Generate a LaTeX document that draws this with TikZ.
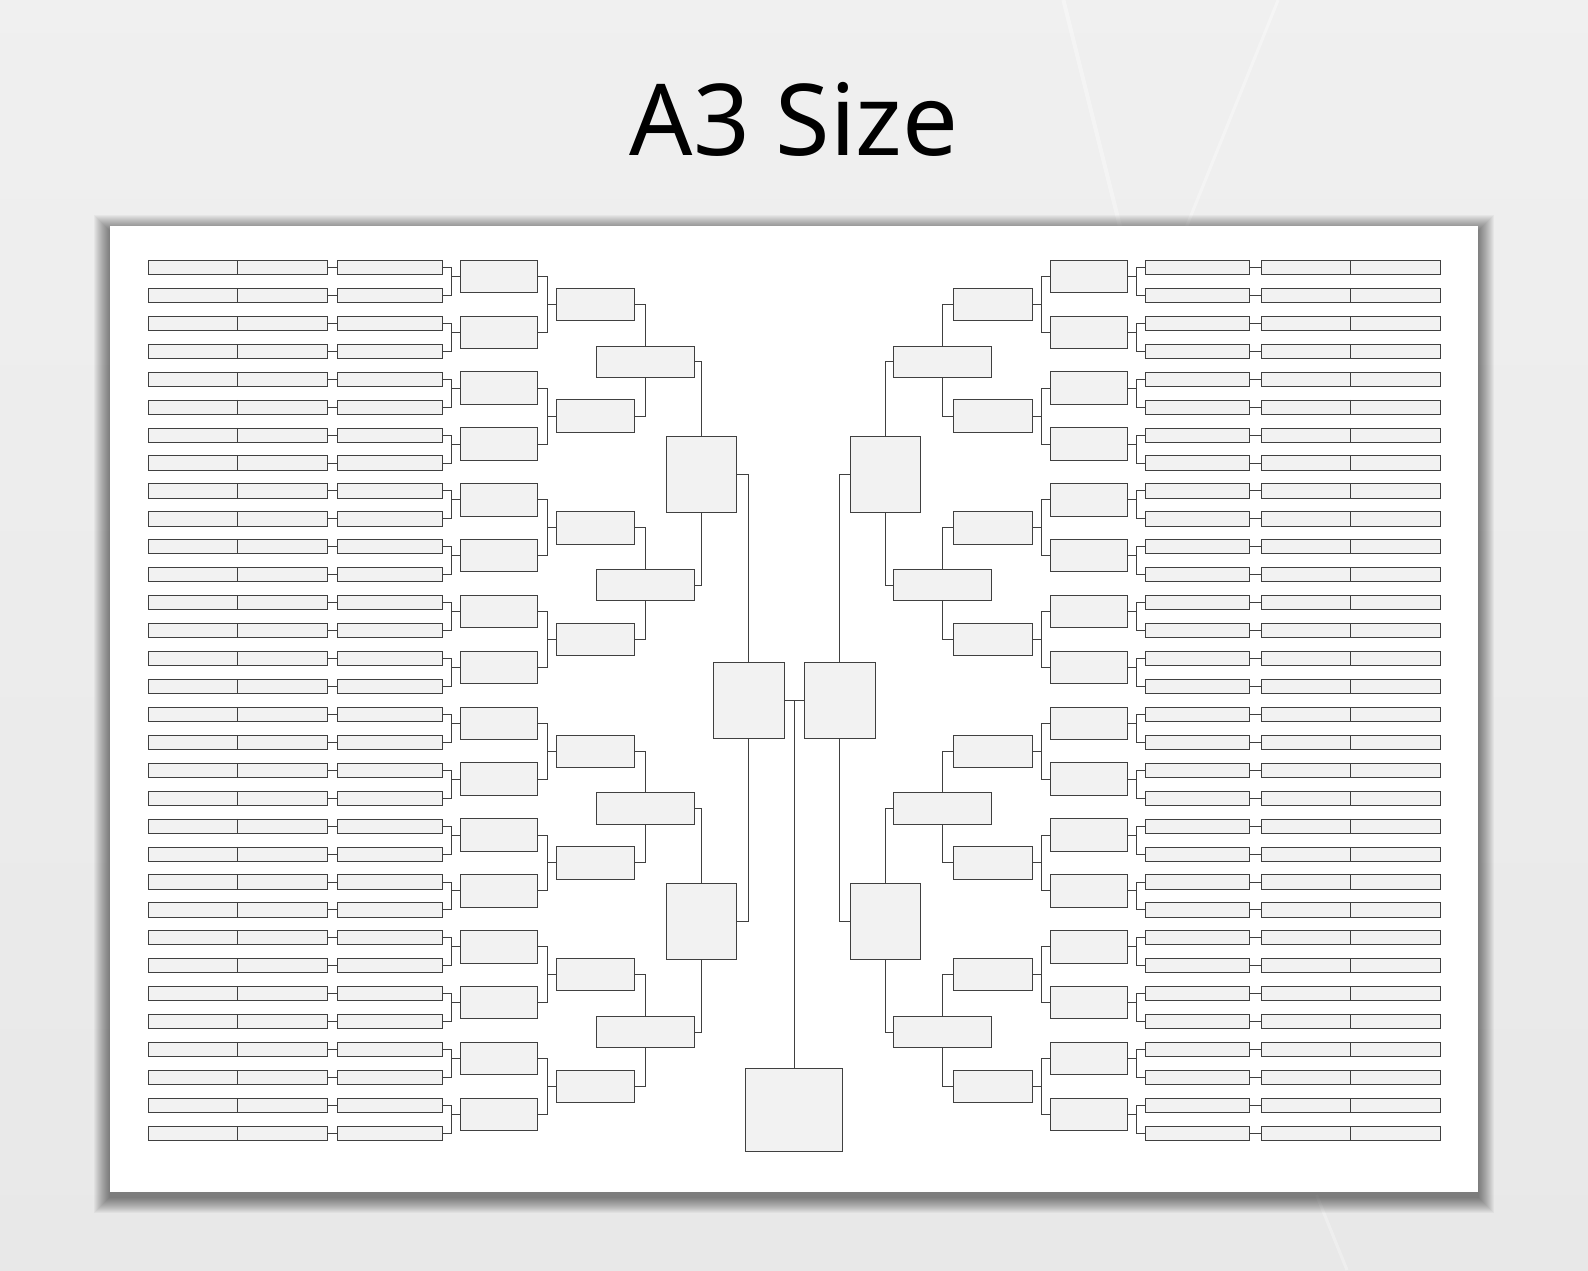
\documentclass[tikz,border=0pt]{standalone}
\usepackage{fontspec}
\setmainfont{Noto Sans}
\begin{document}
\begin{tikzpicture}[x=1pt,y=-1pt,
  bx/.style={draw=black!75,fill=black!5,line width=0.7pt,inner sep=0pt,outer sep=0pt,anchor=center},
  ln/.style={draw=black!75,line width=0.7pt}]
\useasboundingbox (0,0) rectangle (1568,1254);
\shade[top color=black!6,bottom color=black!9] (0,0) rectangle (1568,1254);
\draw[white,line width=4pt,opacity=0.35] (1050,0) -- (1110,240);
\draw[white,line width=3pt,opacity=0.35] (1262,0) -- (1165,240);
\draw[white,line width=3pt,opacity=0.3] (1300,1180) -- (1330,1254);
\node[font=\fontsize{98}{98}\selectfont] (title) at (784,118) {A3 Size};
% shadow
\foreach \k in {1,...,16}{
  \fill[black,opacity=0.035] (109-\k,223-\k+5) rectangle (1459+\k,1177+\k+5);}
\fill[white] (109,223) rectangle (1459,1177);
% rows
\foreach \i in {0,...,31}{
  \pgfmathsetmacro\y{264+27.58*\i}
  \node[bx,minimum width=177,minimum height=14] (La\i) at (234.5,\y) {};
  \draw[ln] (La\i.north) -- (La\i.south);
  \node[bx,minimum width=104,minimum height=14] (Lb\i) at (385,\y) {};
  \draw[ln] (La\i.east) -- (Lb\i.west);
  \node[bx,minimum width=177,minimum height=14] (Ra\i) at (1333.5,\y) {};
  \draw[ln] (Ra\i.north) -- (Ra\i.south);
  \node[bx,minimum width=103,minimum height=14] (Rb\i) at (1182.5,\y) {};
  \draw[ln] (Ra\i.west) -- (Rb\i.east);
}
\foreach \j in {0,...,15}{
  \pgfmathsetmacro\y{264+27.58*(2*\j+0.5)-5}
  \pgfmathtruncatemacro\a{2*\j}\pgfmathtruncatemacro\b{2*\j+1}
  \node[bx,minimum width=76,minimum height=32] (LC\j) at (493,\y) {};
  \node[bx,minimum width=76,minimum height=32] (RC\j) at (1075,\y) {};
  \draw[ln] (Lb\a.east) -- ++(9,0) |- (LC\j.west);
  \draw[ln] (Lb\b.east) -- ++(9,0) |- (LC\j.west);
  \draw[ln] (Rb\a.west) -- ++(-9,0) |- (RC\j.east);
  \draw[ln] (Rb\b.west) -- ++(-9,0) |- (RC\j.east);
}
\foreach \k in {0,...,7}{
  \pgfmathsetmacro\y{264+27.58*(4*\k+1.5)-5}
  \pgfmathtruncatemacro\a{2*\k}\pgfmathtruncatemacro\b{2*\k+1}
  \node[bx,minimum width=77,minimum height=32] (LD\k) at (587.5,\y) {};
  \node[bx,minimum width=78,minimum height=32] (RD\k) at (980,\y) {};
  \draw[ln] (LC\a.east) -- ++(9,0) |- (LD\k.west);
  \draw[ln] (LC\b.east) -- ++(9,0) |- (LD\k.west);
  \draw[ln] (RC\a.west) -- ++(-9,0) |- (RD\k.east);
  \draw[ln] (RC\b.west) -- ++(-9,0) |- (RD\k.east);
}
\foreach \m in {0,...,3}{
  \pgfmathsetmacro\y{264+27.58*(8*\m+3.5)-3.5}
  \pgfmathtruncatemacro\a{2*\m}\pgfmathtruncatemacro\b{2*\m+1}
  \node[bx,minimum width=97,minimum height=31] (LE\m) at (637.5,\y) {};
  \node[bx,minimum width=97,minimum height=31] (RE\m) at (930.5,\y) {};
  \draw[ln] (LD\a.east) -| (LE\m.north);
  \draw[ln] (LD\b.east) -| (LE\m.south);
  \draw[ln] (RD\a.west) -| (RE\m.north);
  \draw[ln] (RD\b.west) -| (RE\m.south);
}
\foreach \n in {0,1}{
  \pgfmathsetmacro\y{264+27.58*(16*\n+7.5)-2.5}
  \pgfmathtruncatemacro\a{2*\n}\pgfmathtruncatemacro\b{2*\n+1}
  \node[bx,minimum width=69,minimum height=75] (LF\n) at (692.5,\y) {};
  \node[bx,minimum width=69,minimum height=75] (RF\n) at (874.5,\y) {};
  \draw[ln] (LE\a.east) -| (LF\n.north);
  \draw[ln] (LE\b.east) -| (LF\n.south);
  \draw[ln] (RE\a.west) -| (RF\n.north);
  \draw[ln] (RE\b.west) -| (RF\n.south);
}
\node[bx,minimum width=70,minimum height=75] (LG) at (739,691.5) {};
\node[bx,minimum width=70,minimum height=75] (RG) at (829,691.5) {};
\draw[ln] (LF0.east) -| (LG.north);
\draw[ln] (LF1.east) -| (LG.south);
\draw[ln] (RF0.west) -| (RG.north);
\draw[ln] (RF1.west) -| (RG.south);
\node[bx,minimum width=96,minimum height=82] (champ) at (784,1096) {};
\draw[ln] (LG.east) -- (RG.west);
\draw[ln] (champ.north) -- (champ.north |- LG.east);
\end{tikzpicture}
\end{document}
